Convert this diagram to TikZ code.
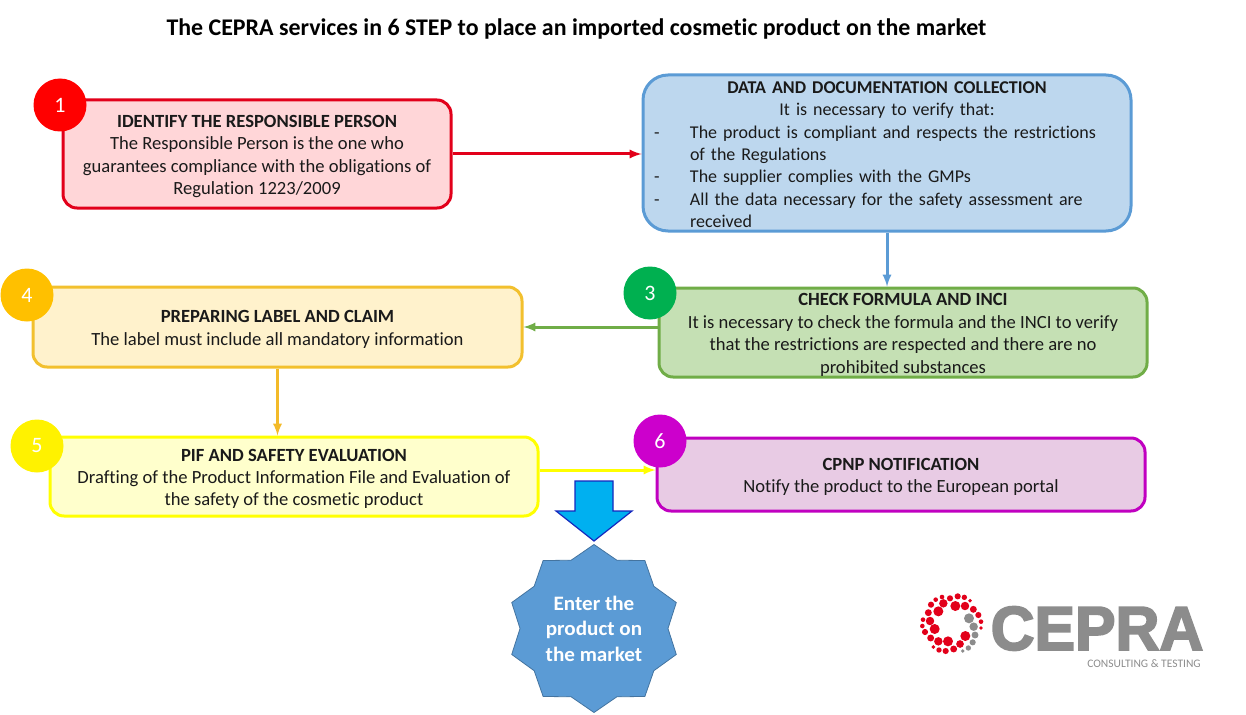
\documentclass[tikz,border=0pt]{standalone}
\usepackage{fontspec}
\setmainfont{Carlito}[Ligatures=NoCommon]
\newfontfamily\logofont{Liberation Sans}[BoldFeatures={FakeBold=3}]
\usetikzlibrary{shapes.geometric}
\definecolor{redline}{HTML}{E2001A}
\definecolor{redfill}{HTML}{FFD6D8}
\definecolor{blueline}{HTML}{5B9BD5}
\definecolor{bluefill}{HTML}{BDD7EE}
\definecolor{greenline}{HTML}{70AD47}
\definecolor{greenfill}{HTML}{C5E0B4}
\definecolor{goldline}{HTML}{F2C02E}
\definecolor{goldfill}{HTML}{FFF2CC}
\definecolor{yellowline}{HTML}{FFFF00}
\definecolor{yellowfill}{HTML}{FFFFCC}
\definecolor{purpleline}{HTML}{C000C0}
\definecolor{purplefill}{HTML}{E8CBE4}
\definecolor{numgreen}{HTML}{00B050}
\definecolor{numgold}{HTML}{FFC000}
\definecolor{numpurple}{HTML}{CC00CC}
\definecolor{arrowblue}{HTML}{00B0F0}
\definecolor{arrowedge}{HTML}{1428BE}
\definecolor{inktext}{HTML}{1A1A1A}
\definecolor{logogrey}{HTML}{8C8C8C}
\newcommand{\boxhead}[1]{\rule{0pt}{17pt}\textbf{#1}}
\tikzset{
  >=latex,
  stepbox/.style 2 args={draw=#1,fill=#2,line width=3pt,rounded corners=14pt,
    align=center,text=inktext,inner sep=0pt,
    font=\fontsize{18.6}{22.4}\selectfont},
  numdot/.style={circle,fill=#1,text=white,minimum size=53pt,inner sep=0pt,
    font=\fontsize{22}{26}\selectfont},
  steplink/.style={line width=3pt,->,draw=#1},
}
\begin{document}
\begin{tikzpicture}[x=1pt,y=-1pt]
\useasboundingbox (0,0) rectangle (1246,714);

\node[font=\fontsize{23.9}{28}\selectfont\bfseries,text=black] (title) at (576.5,28.5)
  {The CEPRA services in 6 STEP to place an imported cosmetic product on the market};

% boxes
\node[stepbox={redline}{redfill},minimum width=388pt,minimum height=108pt] (box1) at (257,154)
  {\boxhead{IDENTIFY THE RESPONSIBLE PERSON}\\The Responsible Person is the one who\\
   guarantees compliance with the obligations of\\Regulation 1223/2009};
\node[stepbox={blueline}{bluefill},rounded corners=25pt,minimum width=488pt,minimum height=156pt,
      text width=466pt,align=left,font=\fontsize{18}{22.4}\selectfont] (box2) at (887,153)
  {\makebox[466pt]{\rule{0pt}{15pt}\textbf{DATA AND DOCUMENTATION COLLECTION}}\\
   \makebox[466pt]{It is necessary to verify that:}\\
   \makebox[36pt][l]{-}The product is compliant and respects the restrictions\\
   \hspace*{36pt}of the Regulations\\
   \makebox[36pt][l]{-}The supplier complies with the GMPs\\
   \makebox[36pt][l]{-}All the data necessary for the safety assessment are\\
   \hspace*{36pt}received};
\node[stepbox={greenline}{greenfill},minimum width=488pt,minimum height=89pt] (box3) at (903,332.5)
  {\boxhead{CHECK FORMULA AND INCI}\\It is necessary to check the formula and the INCI to verify\\
   that the restrictions are respected and there are no\\prohibited substances};
\node[stepbox={goldline}{goldfill},minimum width=489pt,minimum height=80pt] (box4) at (277.5,327)
  {\boxhead{PREPARING LABEL AND CLAIM}\\The label must include all mandatory information};
\node[stepbox={yellowline}{yellowfill},minimum width=488pt,minimum height=79pt] (box5) at (294,476.5)
  {\boxhead{PIF AND SAFETY EVALUATION}\\Drafting of the Product Information File and Evaluation of\\
   the safety of the cosmetic product};
\node[stepbox={purpleline}{purplefill},minimum width=488pt,minimum height=73pt] (box6) at (901,474.5)
  {\boxhead{CPNP NOTIFICATION}\\Notify the product to the European portal};

% numbers
\node[numdot=red] (num1) at (60,105) {1};
\node[numdot=numgreen] (num3) at (650,293) {3};
\node[numdot=numgold] (num4) at (27,295) {4};
\node[numdot=yellow] (num5) at (37,446) {5};
\node[numdot=numpurple] (num6) at (660,441) {6};

% links
\coordinate (link56) at (box5.east |- 0,470);
\draw[steplink=redline] (box1.east) -- (box2.west |- box1.east);
\draw[steplink=blueline] (box2.south) -- (box2.south |- box3.north);
\draw[steplink=greenline] (box3.west |- box4.east) -- (box4.east);
\draw[steplink=goldline!90!orange] (box4.south) -- (box4.south |- box5.north);
\draw[steplink=yellowline] (link56) -- (link56 -| box6.west);

% final arrow and star
\draw[fill=arrowblue,draw=arrowedge,line width=1.2pt,line join=miter]
  (575,481) -- (613,481) -- (613,511) -- (632,511) -- (594,541) -- (556,511) -- (575,511) -- cycle;
\node[star,star points=10,star point ratio=1.17,minimum size=168pt,inner sep=0pt,xscale=1.03,
      fill=blueline,draw=blueline!75!black,line width=0.8pt,align=center,text=white,
      font=\fontsize{20.5}{25.5}\selectfont\bfseries] (market) at (594,628.5)
  {Enter the\\product on\\the market};

% logo
\foreach \dx/\dy/\dr in {128/25/8,148/28/7,165/38/5,105/31/8,81/27/6,62/35/6,48/50/8,40/74/9,
    70/70/13,85/46/11,121/54/13,150/54/11,175/64/9,190/81/8,198/101/6,198/120/5,24/95/6,22/114/6,
    45/99/11,59/123/13,30/132/8,47/150/9,70/160/11,99/160/13,135/168/10,151/144/13,116/183/9,
    92/189/8,72/186/7,55/177/5}
  \fill[redline] ({915+\dx/3},{588+\dy/3}) circle ({\dr/2.6});
\foreach \dx/\dy/\dr in {162/91/13,176/116/11,180/141/9,173/163/8,160/180/7,143/189/5}
  \fill[logogrey] ({915+\dx/3},{588+\dy/3}) circle ({\dr/2.6});
\node[text=logogrey,inner sep=0pt,xscale=0.98,font=\fontsize{62}{62}\logofont\bfseries] (logoname) at (1097,628.5) {CEPRA};
\node[text=logogrey,inner sep=0pt,font=\fontsize{11.5}{13}\selectfont] (logotag) at (1144,664) {CONSULTING \& TESTING};
\end{tikzpicture}
\end{document}
